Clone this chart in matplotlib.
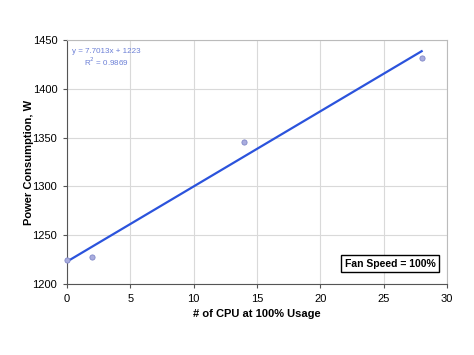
import numpy as np
import matplotlib
matplotlib.use('Agg')
from matplotlib import pyplot as plt

plt.rcParams['font.family'] = ['Liberation Sans', 'DejaVu Sans']

cpus = [0, 2, 14, 28]
power = [1225, 1227.5, 1346, 1432]

# trend line as printed on the chart
slope = 7.7013
intercept = 1223
r2 = 0.9869

x_ticks = [0, 5, 10, 15, 20, 25, 30]
y_ticks = [1200, 1250, 1300, 1350, 1400, 1450]

fig = plt.figure(figsize=(4.74, 3.55), dpi=100)
ax = fig.add_axes([0.1414, 0.2, 0.8016, 0.687])

ax.grid(True, color='#d9d9d9', linewidth=0.8)
ax.set_axisbelow(True)

fit_x = np.array([min(cpus), max(cpus)])
ax.plot(fit_x, slope * fit_x + intercept, color='#2b53dc', linewidth=1.6, zorder=3)
ax.scatter(cpus, power, s=14, facecolor='#a9acde', edgecolor='#8088c8', linewidth=0.6,
           zorder=4, clip_on=False)

ax.set_xlim(0, 30)
ax.set_ylim(1200, 1450)
ax.set_xticks(x_ticks)
ax.set_yticks(y_ticks)
ax.tick_params(labelsize=8, length=3, width=0.8, color='#555555', direction='out', pad=4)

for side in ['top', 'right']:
    ax.spines[side].set_color('#bbbbbb')
for side in ['left', 'bottom']:
    ax.spines[side].set_color('#555555')

ax.set_xlabel('# of CPU at 100% Usage', fontsize=8, fontweight='bold', labelpad=4)
ax.set_ylabel('Power Consumption, W', fontsize=8, fontweight='bold')
ax.yaxis.set_label_coords(-0.087, 0.5)

ax.text(0.012, 0.955, 'y = %.4fx + %d' % (slope, intercept), transform=ax.transAxes,
        fontsize=5.8, color='#6b7fd6', va='center', ha='left')
ax.text(0.045, 0.91, 'R$^2$ = %.4f' % r2, transform=ax.transAxes, fontsize=5.8,
        color='#6b7fd6', va='center', ha='left')

ax.text(0.731, 0.083, 'Fan Speed = 100%', transform=ax.transAxes, fontsize=7.5,
        fontweight='bold', va='center', ha='left',
        bbox=dict(boxstyle='square,pad=0.32', facecolor='white', edgecolor='black', linewidth=1))

plt.savefig('out.png', dpi=100)
